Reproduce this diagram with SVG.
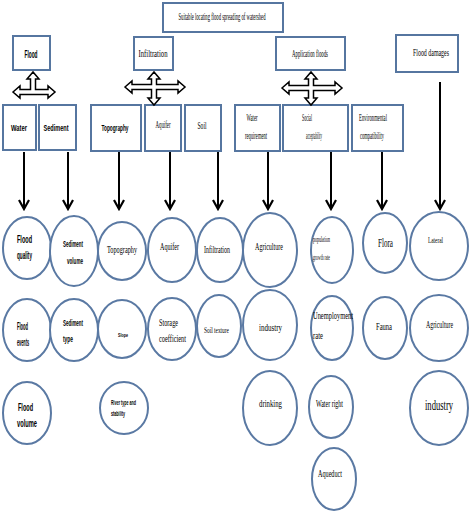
<svg xmlns="http://www.w3.org/2000/svg" width="474" height="525" viewBox="0 0 474 525">
<defs>
<marker id="ah" markerUnits="userSpaceOnUse" markerWidth="12" markerHeight="12" refX="10" refY="6" orient="auto" viewBox="0 0 12 12">
<path d="M1,1 L10,6 L1,11" fill="none" stroke="#000" stroke-width="2.2"/>
</marker>
</defs>
<style>
.bx{fill:#fff;stroke:#5676a0;stroke-width:2}
.ci{fill:#fff;stroke:#5a79a3;stroke-width:2}
.ba{fill:#fff;stroke:#000;stroke-width:1.5;stroke-linejoin:miter}
.ar{stroke:#000;stroke-width:2;fill:none}
.s{font-family:"Liberation Serif","Times New Roman",serif;fill:#000;text-anchor:middle}
.b{font-family:"Liberation Sans",Arial,sans-serif;font-weight:bold;fill:#000;text-anchor:middle}
</style>
<rect width="474" height="525" fill="#fff"/>

<g id="top"><rect class="bx" x="163" y="3" width="120" height="29"/><text class="s" x="222" y="20" font-size="10" textLength="87" lengthAdjust="spacingAndGlyphs">Suitable locating flood spreading of watershed</text></g>

<g id="flood"><rect class="bx" x="13" y="36" width="37" height="34"/><text class="b" x="31" y="58" font-size="10" textLength="13" lengthAdjust="spacingAndGlyphs">Flood</text></g>
<g id="infiltration"><rect class="bx" x="134" y="37" width="39" height="33"/><text class="s" x="153" y="57" font-size="10" textLength="29" lengthAdjust="spacingAndGlyphs">Infiltration</text></g>
<g id="application"><rect class="bx" x="276" y="37" width="69" height="33"/><text class="s" x="310" y="57" font-size="10" textLength="36" lengthAdjust="spacingAndGlyphs">Application floods</text></g>
<g id="damages"><rect class="bx" x="396" y="35" width="62" height="37"/><text class="s" x="431" y="56" font-size="10" textLength="36" lengthAdjust="spacingAndGlyphs">Flood damages</text></g>

<g id="water"><rect class="bx" x="3" y="105" width="33" height="45"/><text class="b" x="19" y="131" font-size="9" textLength="16" lengthAdjust="spacingAndGlyphs">Water</text></g>
<g id="sediment"><rect class="bx" x="39" y="105" width="37" height="45"/><text class="b" x="56" y="131" font-size="9" textLength="25" lengthAdjust="spacingAndGlyphs">Sediment</text></g>
<g id="topography"><rect class="bx" x="91" y="105" width="50" height="46"/><text class="b" x="115" y="131" font-size="9" textLength="27" lengthAdjust="spacingAndGlyphs">Topography</text></g>
<g id="aquifer"><rect class="bx" x="145" y="105" width="36" height="46"/><text class="s" x="163" y="128" font-size="10" textLength="15" lengthAdjust="spacingAndGlyphs">Aquifer</text></g>
<g id="soil"><rect class="bx" x="185" y="105" width="36" height="46"/><text class="s" x="202" y="129" font-size="10" textLength="9" lengthAdjust="spacingAndGlyphs">Soil</text></g>
<g id="waterreq"><rect class="bx" x="235" y="105" width="45" height="46"/><text class="s" x="252" y="121" font-size="10" textLength="11" lengthAdjust="spacingAndGlyphs">Water</text><text class="s" x="256" y="139" font-size="10" textLength="22" lengthAdjust="spacingAndGlyphs">requirement</text></g>
<g id="social"><rect class="bx" x="283" y="105" width="65" height="46"/><text class="s" x="307" y="121" font-size="10" textLength="10" lengthAdjust="spacingAndGlyphs">Social</text><text class="s" x="314" y="139" font-size="10" textLength="16" lengthAdjust="spacingAndGlyphs">acceptability</text></g>
<g id="environmental"><rect class="bx" x="352" y="105" width="51" height="46"/><text class="s" x="373" y="121" font-size="10" textLength="28" lengthAdjust="spacingAndGlyphs">Environmental</text><text class="s" x="372" y="139" font-size="10" textLength="24" lengthAdjust="spacingAndGlyphs">compatibility</text></g>

<g id="connectors">
<polygon class="ba" points="13,92 20,86 20,89.5 30.5,89.5 30.5,79 27,79 33,72 39,79 35.5,79 35.5,89.5 48,89.5 48,86 55,92 48,98 48,94.5 20,94.5 20,98"/>
<polygon class="ba" points="125,87 132,81 132,84.5 151.5,84.5 151.5,79 148,79 154,72 160,79 156.5,79 156.5,84.5 178,84.5 178,81 185,87 178,93 178,89.5 156.5,89.5 156.5,98 160,98 154,105 148,98 151.5,98 151.5,89.5 132,89.5 132,93"/>
<polygon class="ba" points="282,88 289,82 289,85.5 308.5,85.5 308.5,79 305,79 311,72 317,79 313.5,79 313.5,85.5 335,85.5 335,82 342,88 335,94 335,90.5 313.5,90.5 313.5,98 317,98 311,105 305,98 308.5,98 308.5,90.5 289,90.5 289,94"/>
<line class="ar" x1="24" y1="152" x2="24" y2="209" marker-end="url(#ah)"/>
<line class="ar" x1="68" y1="152" x2="68" y2="209" marker-end="url(#ah)"/>
<line class="ar" x1="119" y1="152" x2="119" y2="209" marker-end="url(#ah)"/>
<line class="ar" x1="170" y1="152" x2="170" y2="209" marker-end="url(#ah)"/>
<line class="ar" x1="218" y1="152" x2="218" y2="209" marker-end="url(#ah)"/>
<line class="ar" x1="268" y1="152" x2="268" y2="209" marker-end="url(#ah)"/>
<line class="ar" x1="331" y1="152" x2="331" y2="209" marker-end="url(#ah)"/>
<line class="ar" x1="382" y1="152" x2="382" y2="209" marker-end="url(#ah)"/>
<line class="ar" x1="440" y1="82" x2="440" y2="209" marker-end="url(#ah)"/>
</g>

<g id="c-floodquality"><ellipse class="ci" cx="27" cy="248" rx="24" ry="31"/><text class="b" x="24.5" y="243" font-size="10" textLength="15" lengthAdjust="spacingAndGlyphs">Flood</text><text class="b" x="24.5" y="259" font-size="10" textLength="15" lengthAdjust="spacingAndGlyphs">quality</text></g>
<g id="c-sedvolume"><ellipse class="ci" cx="74" cy="251" rx="24" ry="35"/><text class="b" x="73" y="247" font-size="9" textLength="20" lengthAdjust="spacingAndGlyphs">Sediment</text><text class="b" x="75" y="264" font-size="9" textLength="16" lengthAdjust="spacingAndGlyphs">volume</text></g>
<g id="c-topography"><ellipse class="ci" cx="122" cy="251" rx="24" ry="29"/><text class="s" x="122" y="253" font-size="11" textLength="30" lengthAdjust="spacingAndGlyphs">Topography</text></g>
<g id="c-aquifer"><ellipse class="ci" cx="172" cy="250" rx="24" ry="32"/><text class="s" x="169.5" y="250" font-size="10" textLength="19" lengthAdjust="spacingAndGlyphs">Aquifer</text></g>
<g id="c-infiltration"><ellipse class="ci" cx="220" cy="250" rx="23" ry="32"/><text class="s" x="217" y="253" font-size="10" textLength="26" lengthAdjust="spacingAndGlyphs">Infiltration</text></g>
<g id="c-agriculture1"><ellipse class="ci" cx="270" cy="250" rx="27" ry="37"/><text class="s" x="269" y="250" font-size="10" textLength="28" lengthAdjust="spacingAndGlyphs">Agriculture</text></g>
<g id="c-population"><ellipse class="ci" cx="332" cy="250" rx="21" ry="33"/><text class="s" x="321.5" y="242" font-size="8" textLength="17" lengthAdjust="spacingAndGlyphs">population</text><text class="s" x="321.5" y="260" font-size="8" textLength="17" lengthAdjust="spacingAndGlyphs">growth rate</text></g>
<g id="c-flora"><ellipse class="ci" cx="385" cy="243" rx="22" ry="30"/><text class="s" x="385.5" y="247" font-size="13" textLength="15" lengthAdjust="spacingAndGlyphs">Flora</text></g>
<g id="c-lateral"><ellipse class="ci" cx="439" cy="246" rx="29" ry="34"/><text class="s" x="435.5" y="243" font-size="9" textLength="15" lengthAdjust="spacingAndGlyphs">Lateral</text></g>

<g id="c-floodevents"><ellipse class="ci" cx="27" cy="330" rx="24" ry="31"/><text class="b" x="22.5" y="330" font-size="10" textLength="11" lengthAdjust="spacingAndGlyphs">Flood</text><text class="b" x="23" y="346" font-size="10" textLength="12" lengthAdjust="spacingAndGlyphs">events</text></g>
<g id="c-sedtype"><ellipse class="ci" cx="74" cy="330" rx="24" ry="31"/><text class="b" x="73" y="326" font-size="9" textLength="20" lengthAdjust="spacingAndGlyphs">Sediment</text><text class="b" x="68" y="342" font-size="9" textLength="10" lengthAdjust="spacingAndGlyphs">type</text></g>
<g id="c-slope"><ellipse class="ci" cx="122" cy="329" rx="24" ry="29"/><text class="b" x="123" y="337" font-size="6" textLength="10" lengthAdjust="spacingAndGlyphs">Slope</text></g>
<g id="c-storage"><ellipse class="ci" cx="172" cy="329" rx="24" ry="31"/><text class="s" x="168.5" y="326" font-size="11" textLength="19" lengthAdjust="spacingAndGlyphs">Storage</text><text class="s" x="172.5" y="342" font-size="11" textLength="27" lengthAdjust="spacingAndGlyphs">coefficient</text></g>
<g id="c-soiltexture"><ellipse class="ci" cx="219" cy="326" rx="22" ry="31"/><text class="s" x="216.5" y="333" font-size="8" textLength="25" lengthAdjust="spacingAndGlyphs">Soil texture</text></g>
<g id="c-industry1"><ellipse class="ci" cx="270" cy="325" rx="27" ry="35"/><text class="s" x="270.5" y="331" font-size="11" textLength="23" lengthAdjust="spacingAndGlyphs">industry</text></g>
<g id="c-unemployment"><ellipse class="ci" cx="332" cy="328" rx="21" ry="32"/><text class="s" x="333" y="319" font-size="11" textLength="40" lengthAdjust="spacingAndGlyphs">Unemployment</text><text class="s" x="318" y="339" font-size="11" textLength="10" lengthAdjust="spacingAndGlyphs">rate</text></g>
<g id="c-fauna"><ellipse class="ci" cx="385" cy="328" rx="22" ry="31"/><text class="s" x="384" y="330" font-size="11" textLength="16" lengthAdjust="spacingAndGlyphs">Fauna</text></g>
<g id="c-agriculture2"><ellipse class="ci" cx="439" cy="328" rx="29" ry="33"/><text class="s" x="439.5" y="328" font-size="10" textLength="27" lengthAdjust="spacingAndGlyphs">Agriculture</text></g>

<g id="c-floodvolume"><ellipse class="ci" cx="27" cy="413" rx="24" ry="31"/><text class="b" x="25.5" y="411" font-size="10" textLength="15" lengthAdjust="spacingAndGlyphs">Flood</text><text class="b" x="27" y="427" font-size="10" textLength="20" lengthAdjust="spacingAndGlyphs">volume</text></g>
<g id="c-river"><ellipse class="ci" cx="124" cy="408" rx="24" ry="26"/><text class="b" x="123.5" y="405" font-size="8" font-weight="normal" textLength="25" lengthAdjust="spacingAndGlyphs">River type and</text><text class="b" x="118" y="416" font-size="8" font-weight="normal" textLength="14" lengthAdjust="spacingAndGlyphs">stability</text></g>
<g id="c-drinking"><ellipse class="ci" cx="270" cy="408" rx="27" ry="37"/><text class="s" x="270.5" y="407" font-size="11" textLength="23" lengthAdjust="spacingAndGlyphs">drinking</text></g>
<g id="c-waterright"><ellipse class="ci" cx="331" cy="407" rx="22" ry="31"/><text class="s" x="329.5" y="407" font-size="10" textLength="27" lengthAdjust="spacingAndGlyphs">Water right</text></g>
<g id="c-aqueduct"><ellipse class="ci" cx="334" cy="479" rx="22" ry="31"/><text class="s" x="330" y="477" font-size="10" textLength="24" lengthAdjust="spacingAndGlyphs">Aqueduct</text></g>
<g id="c-industry2"><ellipse class="ci" cx="439" cy="408" rx="29" ry="37"/><text class="s" x="439" y="410" font-size="14" textLength="28" lengthAdjust="spacingAndGlyphs">industry</text></g>
</svg>
